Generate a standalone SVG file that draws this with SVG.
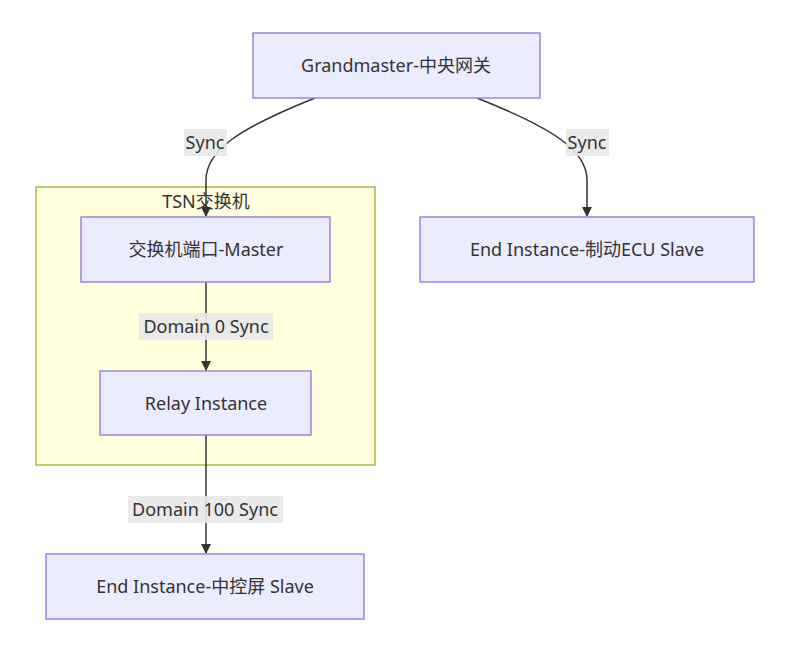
<svg xmlns="http://www.w3.org/2000/svg" width="790" height="654" viewBox="0 0 790 654">
<style>
.n{fill:#ECECFF;stroke:#9370DB;stroke-width:1.3}
.c{fill:#ffffde;stroke:#aaaa33;stroke-width:1.3}
.e{fill:none;stroke:#333;stroke-width:1.5}
.t{font-family:"Noto Sans","Noto Sans CJK SC",sans-serif;font-size:18px;fill:#333;text-anchor:middle;dominant-baseline:central}
.lb{fill:#e8e8e8;opacity:0.9}
</style>
<defs><marker id="a" viewBox="0 0 10 10" refX="9" refY="5" markerWidth="7" markerHeight="7" orient="auto"><path d="M0,0L10,5L0,10z" fill="#333"/></marker></defs>
<rect width="790" height="654" fill="#fff"/>
<g id="cluster"><rect class="c" x="36" y="187" width="339" height="278"/><text class="t" x="206" y="201">TSN交换机</text></g>
<g id="edges">
<path class="e" d="M315,98 C240,128 206,150 206,180 L206,216" marker-end="url(#a)"/>
<path class="e" d="M477,98 C552,128 587,150 587,180 L587,216" marker-end="url(#a)"/>
<path class="e" d="M206,282 L206,370" marker-end="url(#a)"/>
<path class="e" d="M206,435 L206,553" marker-end="url(#a)"/>
<rect class="lb" x="184" y="129" width="43" height="27"/><text class="t" x="205" y="142">Sync</text>
<rect class="lb" x="566" y="129" width="43" height="27"/><text class="t" x="587" y="142">Sync</text>
<rect class="lb" x="139" y="313" width="134" height="27"/><text class="t" x="206" y="326">Domain 0 Sync</text>
<rect class="lb" x="128" y="496" width="155" height="27"/><text class="t" x="205" y="509">Domain 100 Sync</text>
</g>
<g id="gm"><rect class="n" x="253" y="33" width="287" height="65"/><text class="t" x="396" y="65">Grandmaster-中央网关</text></g>
<g id="port"><rect class="n" x="81" y="217" width="249" height="65"/><text class="t" x="206" y="249">交换机端口-Master</text></g>
<g id="relay"><rect class="n" x="100" y="371" width="211" height="64"/><text class="t" x="206" y="403">Relay Instance</text></g>
<g id="hmi"><rect class="n" x="46" y="554" width="318" height="65"/><text class="t" x="205" y="586">End Instance-中控屏 Slave</text></g>
<g id="brake"><rect class="n" x="420" y="217" width="334" height="65"/><text class="t" x="587" y="249">End Instance-制动ECU Slave</text></g>
</svg>
